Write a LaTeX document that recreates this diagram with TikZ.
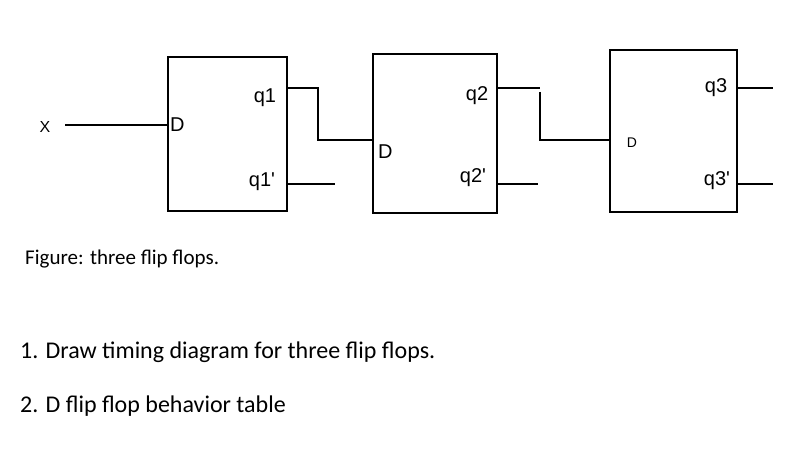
\documentclass[tikz,border=0pt]{standalone}
\usepackage{fontspec}
\setmainfont{Liberation Sans}
\newfontfamily\captfont{Carlito}
\usetikzlibrary{positioning}
\begin{document}
\begin{tikzpicture}[x=1pt,y=-1pt,
    ff/.style={draw, line width=1.8pt},
    wire/.style={line width=1.8pt},
    lbl/.style={font=\fontsize{20}{20}\selectfont, inner sep=0pt},
    txt/.style={font=\captfont\fontsize{24}{26}\selectfont, anchor=west, inner sep=0pt}
]
\useasboundingbox[fill=white] (0,0) rectangle (804,454);

% flip flops
\draw[ff] (168,57) rectangle (287,211);
\draw[ff] (373,54) rectangle (497,213);
\draw[ff] (610,50) rectangle (737,212);

% input
\node[lbl, font=\fontsize{16}{16}\selectfont] (x) at (45,127) {X};
\coordinate (d1) at (168,125);
\draw[wire] (65,125) -- (d1);
\node[lbl, anchor=west] (D1) at (170,125) {D};
\node[lbl] (q1) at (265,98) {q1};
\node[lbl] (q1n) at (262,182) {q1\textquotesingle};
\node[lbl, anchor=west] (D2) at (378,152) {D};
\node[lbl] (q2) at (477,96) {q2};
\node[lbl] (q2n) at (473,178) {q2\textquotesingle};
\node[lbl, font=\fontsize{14}{14}\selectfont] (D3) at (632,143) {D};
\node[lbl] (q3) at (716,88) {q3};
\node[lbl] (q3n) at (717,181) {q3\textquotesingle};

% wires
\draw[wire] (287,88) -- (318,88) -- (318,140) -- (373,140);
\draw[wire] (287,184) -- (335,184);
\draw[wire] (497,88) -- (540,88);
\draw[wire] (540,92) -- (540,140) -- (610,140);
\draw[wire] (497,184) -- (538,184);
\draw[wire] (737,88) -- (773,88);
\draw[wire] (737,184) -- (773,184);

% texts
\node[txt, font=\captfont\fontsize{21}{22}\selectfont] (cap) at (25,259) {Figure: three flip flops.};
\node[txt] (t1) at (20,352) {1. Draw timing diagram for three flip flops.};
\node[txt] (t2) at (20,406) {2. D flip flop behavior table};
\end{tikzpicture}
\end{document}
